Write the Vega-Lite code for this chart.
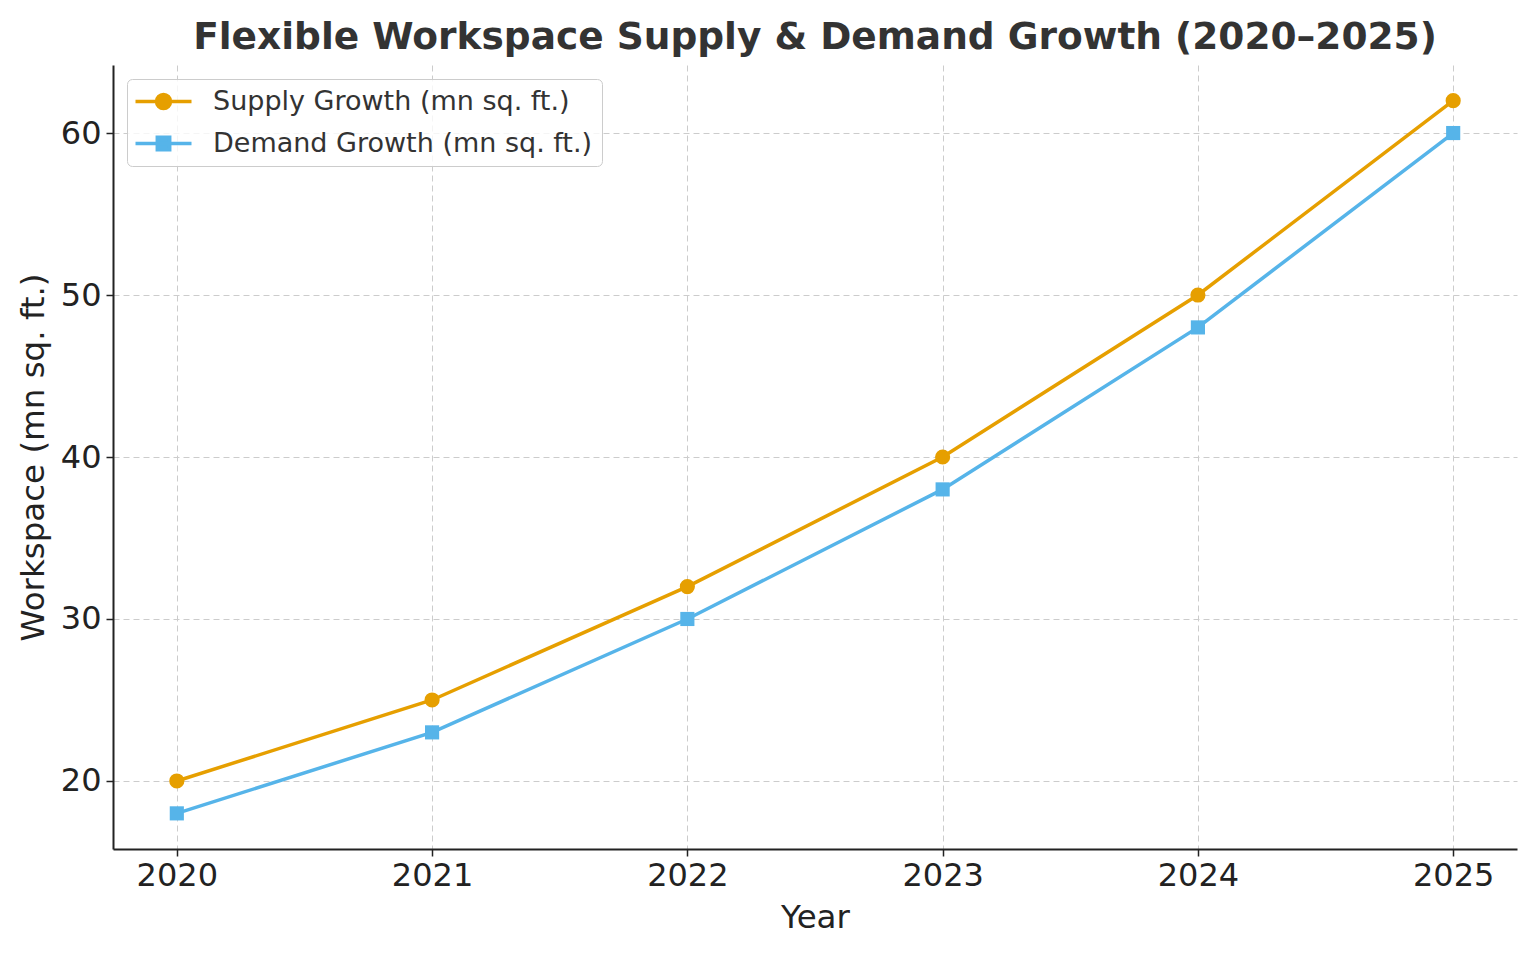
{
  "$schema": "https://vega.github.io/schema/vega-lite/v6.json",
  "width": 1404,
  "height": 784,
  "autosize": {"type": "none"},
  "padding": {"left": 113, "top": 65, "right": 19, "bottom": 104},
  "background": "white",
  "title": {
    "text": "Flexible Workspace Supply & Demand Growth (2020–2025)",
    "fontSize": 37.5,
    "fontWeight": "bold",
    "font": "DejaVu Sans",
    "color": "#333333",
    "anchor": "middle",
    "offset": 9
  },
  "data": {
    "values": [
      {"series": "Supply Growth (mn sq. ft.)", "year": 2020, "value": 20},
      {"series": "Supply Growth (mn sq. ft.)", "year": 2021, "value": 25},
      {"series": "Supply Growth (mn sq. ft.)", "year": 2022, "value": 32},
      {"series": "Supply Growth (mn sq. ft.)", "year": 2023, "value": 40},
      {"series": "Supply Growth (mn sq. ft.)", "year": 2024, "value": 50},
      {"series": "Supply Growth (mn sq. ft.)", "year": 2025, "value": 62},
      {"series": "Demand Growth (mn sq. ft.)", "year": 2020, "value": 18},
      {"series": "Demand Growth (mn sq. ft.)", "year": 2021, "value": 23},
      {"series": "Demand Growth (mn sq. ft.)", "year": 2022, "value": 30},
      {"series": "Demand Growth (mn sq. ft.)", "year": 2023, "value": 38},
      {"series": "Demand Growth (mn sq. ft.)", "year": 2024, "value": 48},
      {"series": "Demand Growth (mn sq. ft.)", "year": 2025, "value": 60}
    ]
  },
  "encoding": {
    "x": {
      "field": "year",
      "type": "quantitative",
      "scale": {"domain": [2019.75, 2025.25], "nice": false, "zero": false},
      "axis": {"title": "Year", "values": [2020, 2021, 2022, 2023, 2024, 2025], "format": "d", "labelPadding": 4, "titlePadding": 10}
    },
    "y": {
      "field": "value",
      "type": "quantitative",
      "scale": {"domain": [15.8, 64.2], "nice": false, "zero": false},
      "axis": {"title": "Workspace (mn sq. ft.)", "values": [20, 30, 40, 50, 60], "labelPadding": 5, "titlePadding": 10}
    },
    "color": {
      "field": "series",
      "type": "nominal",
      "sort": ["Supply Growth (mn sq. ft.)", "Demand Growth (mn sq. ft.)"],
      "scale": {"domain": ["Supply Growth (mn sq. ft.)", "Demand Growth (mn sq. ft.)"], "range": ["#E69F00", "#56B4E9"]},
      "legend": {
        "title": null,
        "orient": "top-left",
        "offset": 14,
        "padding": 9,
        "fillColor": "rgba(255,255,255,0.8)",
        "strokeColor": "#cccccc",
        "cornerRadius": 5,
        "labelFontSize": 27,
        "labelColor": "#333333",
        "labelFont": "DejaVu Sans",
        "labelOffset": 36,
        "labelLimit": 0,
        "symbolSize": 400,
        "symbolOffset": 14,
        "symbolStrokeWidth": 3.5,
        "rowPadding": 13,
        "encode": {
          "symbols": {
            "update": {
              "shape": {"signal": "datum.value === 'Supply Growth (mn sq. ft.)' ? 'M-2.8,0H2.8M-0.7,0A0.7,0.7 0 1,1 0.7,0A0.7,0.7 0 1,1 -0.7,0Z' : 'M-2.8,0H2.8M-0.62,-0.62H0.62V0.62H-0.62Z'"},
              "fill": {"scale": "color", "field": "value"},
              "stroke": {"scale": "color", "field": "value"},
              "opacity": {"value": 1},
              "fillOpacity": {"value": 1}
            }
          }
        }
      }
    }
  },
  "layer": [
    {
      "mark": {"type": "line", "strokeWidth": 3.5}
    },
    {
      "transform": [{"filter": "datum.series === 'Supply Growth (mn sq. ft.)'"}],
      "mark": {"type": "point", "filled": true, "opacity": 1, "shape": "circle", "size": 230}
    },
    {
      "transform": [{"filter": "datum.series === 'Demand Growth (mn sq. ft.)'"}],
      "mark": {"type": "point", "filled": true, "opacity": 1, "shape": "square", "size": 200}
    }
  ],
  "config": {
    "view": {"stroke": null},
    "font": "DejaVu Sans",
    "axis": {
      "domainColor": "#222222",
      "domainWidth": 2,
      "tickColor": "#222222",
      "tickWidth": 1.5,
      "tickSize": 7,
      "labelFontSize": 32,
      "labelColor": "#222222",
      "labelFont": "DejaVu Sans",
      "titleFontSize": 32.5,
      "titleFontWeight": "normal",
      "titleColor": "#222222",
      "titleFont": "DejaVu Sans",
      "grid": true,
      "gridColor": "#cccccc",
      "gridDash": [6, 4],
      "gridWidth": 1
    }
  }
}
